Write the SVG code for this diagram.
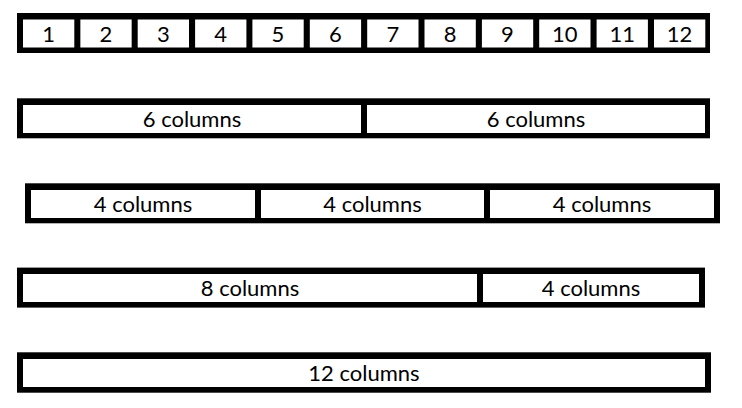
<svg xmlns="http://www.w3.org/2000/svg" width="742" height="408" viewBox="0 0 742 408">
<style>
.frame{fill:#000}
.cell{fill:#fff}
.lbl{font-family:Lato,"Liberation Sans",sans-serif;font-size:22px;fill:#000;text-anchor:middle}
</style>
<rect width="742" height="408" fill="#fff"/>
<g id="row-12">
<rect class="frame" x="17" y="13" width="693" height="40"/>
<rect class="cell" x="23" y="19.5" width="51.3" height="28"/>
<rect class="cell" x="80.36" y="19.5" width="51.3" height="28"/>
<rect class="cell" x="137.7" y="19.5" width="51.3" height="28"/>
<rect class="cell" x="195.1" y="19.5" width="51.3" height="28"/>
<rect class="cell" x="252.4" y="19.5" width="51.3" height="28"/>
<rect class="cell" x="309.8" y="19.5" width="51.3" height="28"/>
<rect class="cell" x="367.2" y="19.5" width="51.3" height="28"/>
<rect class="cell" x="424.5" y="19.5" width="51.3" height="28"/>
<rect class="cell" x="481.9" y="19.5" width="51.3" height="28"/>
<rect class="cell" x="539.2" y="19.5" width="51.3" height="28"/>
<rect class="cell" x="596.6" y="19.5" width="51.3" height="28"/>
<rect class="cell" x="654" y="19.5" width="51.3" height="28"/>
<text class="lbl" x="48.6" y="42">1</text>
<text class="lbl" x="106" y="42">2</text>
<text class="lbl" x="163.3" y="42">3</text>
<text class="lbl" x="220.7" y="42">4</text>
<text class="lbl" x="278" y="42">5</text>
<text class="lbl" x="335.4" y="42">6</text>
<text class="lbl" x="392.8" y="42">7</text>
<text class="lbl" x="450.1" y="42">8</text>
<text class="lbl" x="507.5" y="42">9</text>
<text class="lbl" x="564.8" y="42">10</text>
<text class="lbl" x="622.2" y="42">11</text>
<text class="lbl" x="679.6" y="42">12</text>
</g>
<g id="row-6-6">
<rect class="frame" x="17" y="98.3" width="693" height="40"/>
<rect class="cell" x="23" y="105" width="338" height="28"/>
<rect class="cell" x="367" y="105" width="338" height="28"/>
<text class="lbl" x="192" y="127">6 columns</text>
<text class="lbl" x="536" y="127">6 columns</text>
</g>
<g id="row-4-4-4">
<rect class="frame" x="25" y="183.3" width="695" height="40"/>
<rect class="cell" x="31" y="190" width="224" height="28"/>
<rect class="cell" x="261" y="190" width="223" height="28"/>
<rect class="cell" x="490" y="190" width="224" height="28"/>
<text class="lbl" x="143" y="212">4 columns</text>
<text class="lbl" x="372.5" y="212">4 columns</text>
<text class="lbl" x="602" y="212">4 columns</text>
</g>
<g id="row-8-4">
<rect class="frame" x="17" y="267.6" width="688" height="40"/>
<rect class="cell" x="23" y="274" width="454" height="28"/>
<rect class="cell" x="483" y="274" width="216" height="28"/>
<text class="lbl" x="250" y="296">8 columns</text>
<text class="lbl" x="591" y="296">4 columns</text>
</g>
<g id="row-12col">
<rect class="frame" x="17" y="352.3" width="694" height="40.4"/>
<rect class="cell" x="23" y="359" width="682" height="28"/>
<text class="lbl" x="364" y="381">12 columns</text>
</g>
<g id="connectors"/>
</svg>
